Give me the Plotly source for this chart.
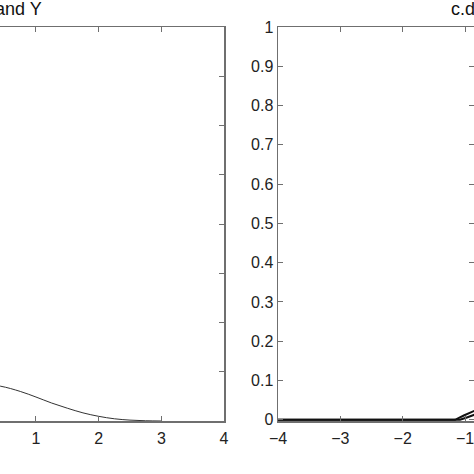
import plotly.graph_objects as go

# p.d.f. curve (left panel)
pdf_x = [-3.0, -2.5, -2.0, -1.5, -1.0, -0.5, 0.0, 0.43, 0.75, 1.0, 1.25, 1.5, 1.75, 2.0, 2.25, 2.5, 2.75, 3.0]
pdf_y = [0.0, 0.002, 0.0095, 0.025, 0.049, 0.069, 0.077, 0.0708, 0.060, 0.0487, 0.0365, 0.026, 0.0165, 0.0095, 0.0045, 0.0018, 0.0005, 0.0]

# c.d.f. curves (right panel)
cdfX_x = [-4.0, -3.0, -2.0, -1.16, -1.02, -0.87, -0.85]
cdfX_y = [0.0, 0.0, 0.0, 0.0, 0.011, 0.0216, 0.023]
cdfY_x = [-4.0, -3.0, -2.0, -1.08, -0.97, -0.87, -0.85]
cdfY_y = [0.0, 0.0, 0.0, 0.0, 0.006, 0.012, 0.013]

left_xticks = [0, 1, 2, 3, 4]
right_xticks = [-4, -3, -2, -1]
right_yticks = [0, 0.1, 0.2, 0.3, 0.4, 0.5, 0.6, 0.7, 0.8, 0.9, 1]
left_yticks = [0, 0.1, 0.2, 0.3, 0.4, 0.5, 0.6, 0.7, 0.8]

W, H = 474, 474
FONT = "Liberation Sans, Arial, Helvetica, sans-serif"
AX = "#6f6f6f"

fig = go.Figure()
fig.add_trace(go.Scatter(x=pdf_x, y=pdf_y, mode="lines", line=dict(color="#333333", width=1, shape="spline"),
                         xaxis="x", yaxis="y", showlegend=False))
fig.add_trace(go.Scatter(x=cdfX_x, y=cdfX_y, mode="lines", line=dict(color="#111111", width=2),
                         xaxis="x2", yaxis="y2", showlegend=False))
fig.add_trace(go.Scatter(x=cdfY_x, y=cdfY_y, mode="lines", line=dict(color="#111111", width=2),
                         xaxis="x2", yaxis="y2", showlegend=False))

common = dict(showgrid=False, zeroline=False, ticks="inside", ticklen=5, tickcolor=AX, automargin=False,
              ticklabeloverflow="allow",
              linecolor=AX, linewidth=1.5, tickfont=dict(family=FONT, size=16, color="#222"))

fig.update_layout(
    width=W, height=H,
    margin=dict(l=0, r=0, t=27, b=53, pad=0),
    paper_bgcolor="white", plot_bgcolor="white",
    xaxis=dict(domain=[0, 224 / W], range=[0.426, 4], tickvals=left_xticks,
               showline=True, mirror="ticks", anchor="y", ticklabelstandoff=2, **common),
    yaxis=dict(domain=[0, 1], range=[0, 0.8], tickvals=left_yticks, side="right",
               showline=True, mirror=False, showticklabels=False, anchor="x", **common),
    xaxis2=dict(domain=[278 / W, 1], range=[-4, -0.856], tickvals=right_xticks,
                ticktext=["\u22124", "\u22123", "\u22122", "\u22121"],
                showline=True, mirror="ticks", anchor="y2", ticklabelstandoff=2, **common),
    yaxis2=dict(domain=[0, 1], range=[-0.003, 1], tickvals=right_yticks,
                ticktext=["0", "0.1", "0.2", "0.3", "0.4", "0.5", "0.6", "0.7", "0.8", "0.9", "1"],
                showline=True, mirror="ticks", anchor="x2", **common),
    annotations=[
        dict(text="p.d.f. of X and Y", x=44 / W, y=1, xref="paper", yref="paper",
             xanchor="right", yanchor="bottom", yshift=6, showarrow=False,
             font=dict(family=FONT, size=18, color="#111")),
        dict(text="c.d.f. of X and Y", x=449 / W, y=1, xref="paper", yref="paper",
             xanchor="left", yanchor="bottom", yshift=6, showarrow=False,
             font=dict(family=FONT, size=18, color="#111")),
    ],
)

fig.write_html("out.html", config={"displayModeBar": False, "staticPlot": True},
               post_script="document.body.style.margin='0';document.body.style.overflow='hidden';")
